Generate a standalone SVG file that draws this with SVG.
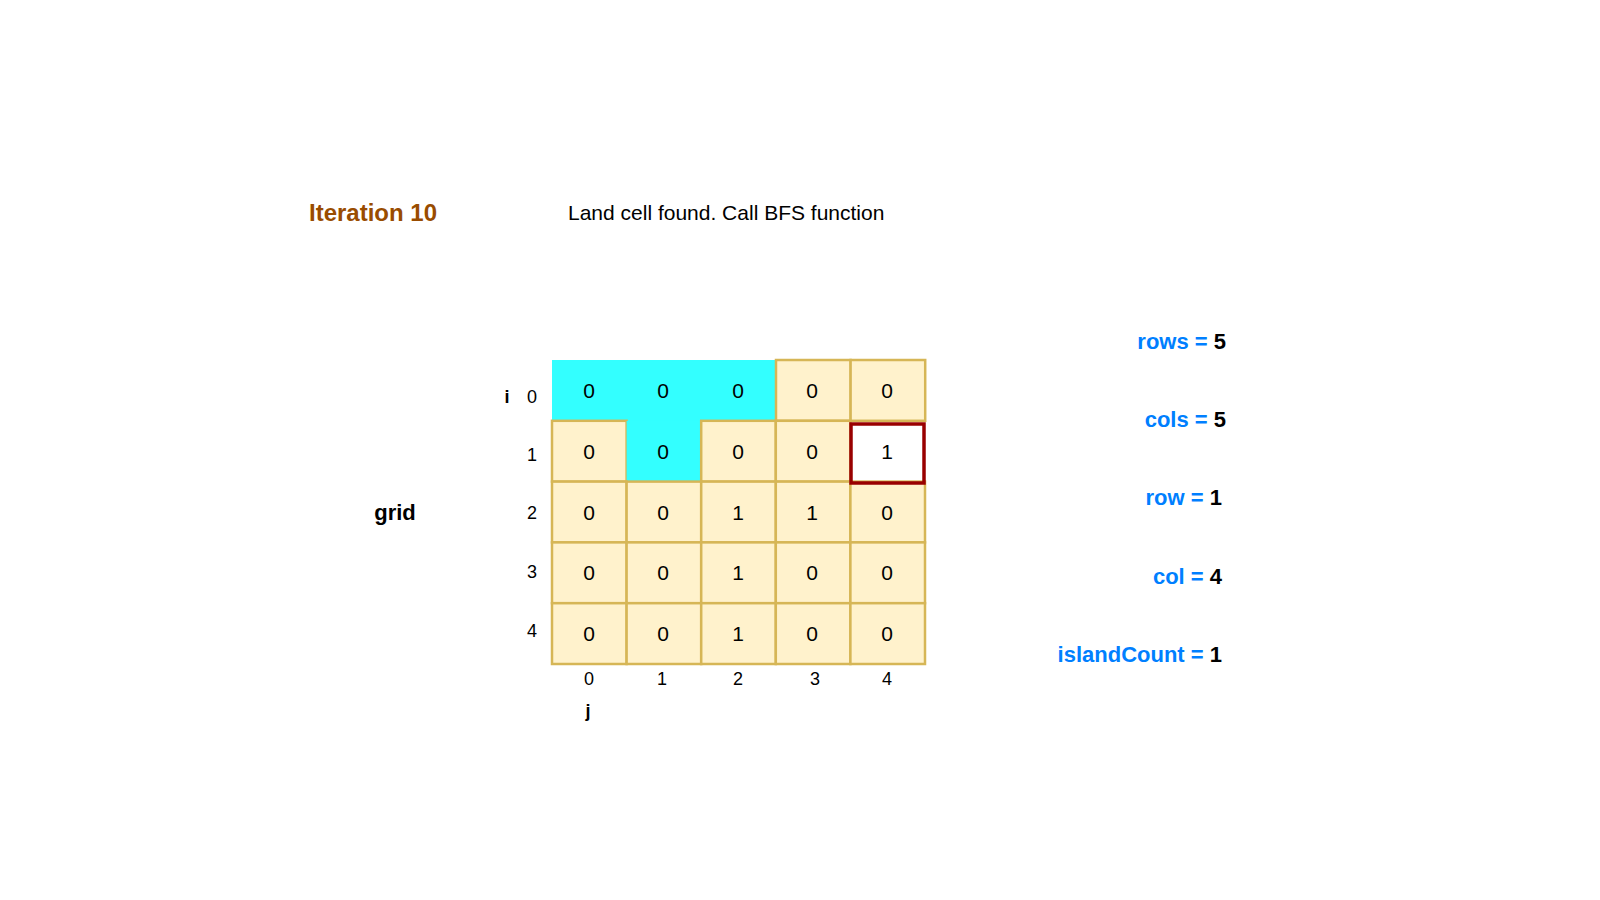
<svg xmlns="http://www.w3.org/2000/svg" width="1600" height="900" viewBox="0 0 1600 900">
<style>
.c{fill:#fff2cc;stroke:#d6b656;stroke-width:2.5}
.w{fill:#33ffff;stroke:none}
.t{font-family:"Liberation Sans",Arial,sans-serif;font-size:21px;text-anchor:middle;fill:#000}
.s{font-family:"Liberation Sans",Arial,sans-serif;font-size:18px;text-anchor:middle;fill:#000}
.b{font-family:"Liberation Sans",Arial,sans-serif;font-size:22px;font-weight:bold;text-anchor:end;fill:#007fff}
.k{fill:#000}
</style>
<rect width="1600" height="900" fill="#fff"/>
<text x="309" y="221" font-family="Liberation Sans,Arial,sans-serif" font-size="24" font-weight="bold" fill="#994c00">Iteration 10</text>
<text x="568" y="220" font-family="Liberation Sans,Arial,sans-serif" font-size="21" fill="#000">Land cell found. Call BFS function</text>
<text x="395" y="520" font-family="Liberation Sans,Arial,sans-serif" font-size="22" font-weight="bold" text-anchor="middle">grid</text>
<g id="grid">
<g id="row0">
<rect class="w" x="552" y="360" width="224" height="61"/>
<rect class="c" x="776" y="360" width="74.6" height="60.8"/><rect class="c" x="850.6" y="360" width="74.6" height="60.8"/>
</g>
<g id="row1">
<rect class="c" x="552" y="420.8" width="74.6" height="60.8"/>
<rect class="w" x="626.6" y="420.8" width="74.6" height="60.8"/>
<rect class="c" x="701.2" y="420.8" width="74.6" height="60.8"/><rect class="c" x="775.8" y="420.8" width="74.6" height="60.8"/>
</g>
<g id="rows234">
<rect class="c" x="552" y="481.6" width="74.6" height="60.8"/><rect class="c" x="626.6" y="481.6" width="74.6" height="60.8"/><rect class="c" x="701.2" y="481.6" width="74.6" height="60.8"/><rect class="c" x="775.8" y="481.6" width="74.6" height="60.8"/><rect class="c" x="850.4" y="481.6" width="74.6" height="60.8"/>
<rect class="c" x="552" y="542.4" width="74.6" height="60.8"/><rect class="c" x="626.6" y="542.4" width="74.6" height="60.8"/><rect class="c" x="701.2" y="542.4" width="74.6" height="60.8"/><rect class="c" x="775.8" y="542.4" width="74.6" height="60.8"/><rect class="c" x="850.4" y="542.4" width="74.6" height="60.8"/>
<rect class="c" x="552" y="603.2" width="74.6" height="60.8"/><rect class="c" x="626.6" y="603.2" width="74.6" height="60.8"/><rect class="c" x="701.2" y="603.2" width="74.6" height="60.8"/><rect class="c" x="775.8" y="603.2" width="74.6" height="60.8"/><rect class="c" x="850.4" y="603.2" width="74.6" height="60.8"/>
</g>
<rect x="851" y="424" width="73" height="59" fill="none" stroke="#990000" stroke-width="3.5"/>
<g class="t">
<text x="589" y="398">0</text><text x="663" y="398">0</text><text x="738" y="398">0</text><text x="812" y="398">0</text><text x="887" y="398">0</text>
<text x="589" y="459">0</text><text x="663" y="459">0</text><text x="738" y="459">0</text><text x="812" y="459">0</text><text x="887" y="459">1</text>
<text x="589" y="520">0</text><text x="663" y="520">0</text><text x="738" y="520">1</text><text x="812" y="520">1</text><text x="887" y="520">0</text>
<text x="589" y="580">0</text><text x="663" y="580">0</text><text x="738" y="580">1</text><text x="812" y="580">0</text><text x="887" y="580">0</text>
<text x="589" y="641">0</text><text x="663" y="641">0</text><text x="738" y="641">1</text><text x="812" y="641">0</text><text x="887" y="641">0</text>
</g>
</g>
<g id="labels" class="s">
<text x="507" y="403" font-weight="bold">i</text>
<text x="532" y="403">0</text><text x="532" y="461">1</text><text x="532" y="519">2</text><text x="532" y="578">3</text><text x="532" y="637">4</text>
<text x="589" y="685">0</text><text x="662" y="685">1</text><text x="738" y="685">2</text><text x="815" y="685">3</text><text x="887" y="685">4</text>
<text x="588" y="717" font-weight="bold">j</text>
</g>
<g id="vars" class="b">
<text x="1226" y="349">rows = <tspan class="k">5</tspan></text>
<text x="1226" y="427">cols = <tspan class="k">5</tspan></text>
<text x="1222" y="505">row = <tspan class="k">1</tspan></text>
<text x="1222" y="584">col = <tspan class="k">4</tspan></text>
<text x="1222" y="662">islandCount = <tspan class="k">1</tspan></text>
</g>
<g id="connectors"/>
</svg>
